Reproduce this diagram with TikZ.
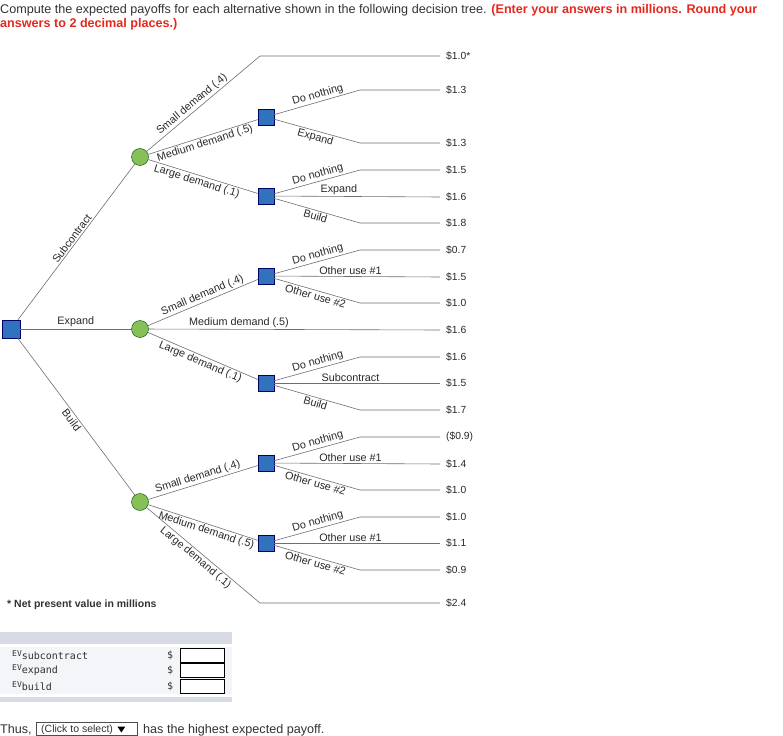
\documentclass[tikz,border=0pt]{standalone}
\usepackage{fontspec}
\setmainfont{Liberation Sans}
\newfontfamily\monof{DejaVu Sans Mono}
\definecolor{blueN}{RGB}{47,115,190}
\definecolor{greenN}{RGB}{134,193,87}
\definecolor{lineC}{RGB}{110,110,110}
\definecolor{txtC}{RGB}{40,40,40}
\definecolor{redT}{RGB}{228,40,30}
\definecolor{bandC}{RGB}{214,219,230}
\definecolor{rowC}{RGB}{244,245,248}
\definecolor{headC}{RGB}{50,50,50}
\begin{document}
\begin{tikzpicture}[x=1pt,y=-1pt,
  dec/.style={draw=blue!40!black,fill=blueN,minimum size=16pt,inner sep=0pt},
  root/.style={dec,minimum size=18pt},
  chance/.style={circle,draw=green!30!black,fill=greenN,minimum size=17pt,inner sep=0pt},
  br/.style={draw=lineC,line width=0.6pt},
  lab/.style={font=\fontsize{10.8}{12}\selectfont,text=txtC,inner sep=1.5pt},
  pay/.style={font=\fontsize{10.3}{12}\selectfont,anchor=west,inner sep=0pt,text=txtC},
  body/.style={font=\fontsize{12.6}{14}\selectfont,text=headC,inner sep=0pt,anchor=base west},
  redt/.style={text=redT,font=\fontsize{12.6}{14}\selectfont\bfseries}
]
\useasboundingbox (0,0) rectangle (783,735);
% title
\node[body] (t1) at (0,14) {Compute the expected payoffs for each alternative shown in the following decision tree. \textcolor{redT}{\bfseries(Enter your answers in millions. Round your}};
\node[anchor=base west,inner sep=0pt,redt] (t2) at (0,28) {answers to 2 decimal places.)};

% nodes
\node[root] (R) at (11,329) {};
\node[chance] (C1) at (140,157) {};
\node[chance] (C2) at (140,329) {};
\node[chance] (C3) at (140,502) {};
\node[dec] (D1) at (266,117) {};
\node[dec] (D2) at (266,196) {};
\node[dec] (D3) at (266,276) {};
\node[dec] (D4) at (266,383) {};
\node[dec] (D5) at (266,463) {};
\node[dec] (D6) at (266,543) {};

% payoffs
\foreach \n/\y/\v in {p1/56/{\$1.0*},p2/90/\$1.3,p3/143/\$1.3,p4/170/\$1.5,p5/197/\$1.6,p6/223/\$1.8,p7/250/\$0.7,p8/277/\$1.5,p9/303/\$1.0,p10/330/\$1.6,p11/357/\$1.6,p12/383/\$1.5,p13/410/\$1.7,p14/437/(\$0.9),p15/464/\$1.4,p16/490/\$1.0,p17/517/\$1.0,p18/543/\$1.1,p19/570/\$0.9,p20/603/\$2.4}{
  \coordinate (\n) at (440,\y);
  \node[pay] (l\n) at (446,\y) {\v};
}

% root branches
\draw[br] (R) -- (C1) node[lab,midway,sloped,above] {Subcontract};
\draw[br] (R) -- (C2) node[lab,midway,above] {Expand};
\draw[br] (R) -- (C3) node[lab,midway,sloped,below] {Build};

% C1
\coordinate (k1) at (260,56);
\draw[br] (C1) -- (k1) node[lab,pos=0.44,sloped,above] {Small demand (.4)} -- (p1);
\draw[br] (C1) -- (D1) node[lab,pos=0.5,sloped,below] {Medium demand (.5)};
\draw[br] (C1) -- (D2) node[lab,pos=0.46,sloped,below] {Large demand (.1)};
% D1
\coordinate (a2) at (360,90); \coordinate (a3) at (360,143);
\draw[br] (D1) -- (a2) node[lab,pos=0.53,sloped,above] {Do nothing} -- (p2);
\draw[br] (D1) -- (a3) node[lab,pos=0.5,sloped,below] {Expand} -- (p3);
% D2
\coordinate (a4) at (360,170); \coordinate (a6) at (360,223);
\draw[br] (D2) -- (a4) node[lab,pos=0.53,sloped,above] {Do nothing} -- (p4);
\draw[br] (D2) -- (p5) node[lab,pos=0.39,above] {Expand};
\draw[br] (D2) -- (a6) node[lab,pos=0.5,sloped,below] {Build} -- (p6);

% C2
\draw[br] (C2) -- (D3) node[lab,pos=0.52,sloped,above] {Small demand (.4)};
\draw[br] (C2) -- (p10) node[lab,pos=0.31,above] {Medium demand (.5)};
\draw[br] (C2) -- (D4) node[lab,pos=0.5,sloped,below] {Large demand (.1)};
% D3
\coordinate (a7) at (360,250); \coordinate (a9) at (360,303);
\draw[br] (D3) -- (a7) node[lab,pos=0.53,sloped,above] {Do nothing} -- (p7);
\draw[br] (D3) -- (p8) node[lab,pos=0.46,above] {Other use \#1};
\draw[br] (D3) -- (a9) node[lab,pos=0.5,sloped,below] {Other use \#2} -- (p9);
% D4
\coordinate (a11) at (360,357); \coordinate (a13) at (360,410);
\draw[br] (D4) -- (a11) node[lab,pos=0.53,sloped,above] {Do nothing} -- (p11);
\draw[br] (D4) -- (p12) node[lab,pos=0.46,above] {Subcontract};
\draw[br] (D4) -- (a13) node[lab,pos=0.5,sloped,below] {Build} -- (p13);

% C3
\coordinate (k20) at (260,603);
\draw[br] (C3) -- (D5) node[lab,pos=0.47,sloped,above] {Small demand (.4)};
\draw[br] (C3) -- (D6) node[lab,pos=0.55,sloped,below] {Medium demand (.5)};
\draw[br] (C3) -- (k20) node[lab,pos=0.47,sloped,below] {Large demand (.1)} -- (p20);
% D5
\coordinate (a14) at (360,437); \coordinate (a16) at (360,490);
\draw[br] (D5) -- (a14) node[lab,pos=0.53,sloped,above] {Do nothing} -- (p14);
\draw[br] (D5) -- (p15) node[lab,pos=0.46,above] {Other use \#1};
\draw[br] (D5) -- (a16) node[lab,pos=0.5,sloped,below] {Other use \#2} -- (p16);
% D6
\coordinate (a17) at (360,517); \coordinate (a19) at (360,570);
\draw[br] (D6) -- (a17) node[lab,pos=0.53,sloped,above] {Do nothing} -- (p17);
\draw[br] (D6) -- (p18) node[lab,pos=0.46,above] {Other use \#1};
\draw[br] (D6) -- (a19) node[lab,pos=0.5,sloped,below] {Other use \#2} -- (p19);

\node[anchor=west,inner sep=0pt,font=\fontsize{10.5}{12}\selectfont\bfseries,text=headC] (npv) at (7,605) {* Net present value in millions};

% table
\fill[bandC] (0,632) rectangle (232,644);
\fill[bandC] (0,697) rectangle (232,702);
\fill[rowC] (0,647) rectangle (232,694);
\foreach \n/\y/\s in {e1/655/subcontract,e2/670/expand,e3/686/build}{
  \node[anchor=west,inner sep=0pt,font=\monof\fontsize{10}{11}\selectfont,text=headC] (\n) at (12,\y) {\raisebox{3pt}{\fontsize{8}{9}\selectfont EV}\s};
  \node[anchor=west,inner sep=0pt,font=\monof\fontsize{10}{11}\selectfont,text=headC] (d\n) at (167,\y) {\$};
  \node[draw=black,line width=0.8pt,fill=white,minimum width=44pt,minimum height=14pt,inner sep=0pt] (b\n) at (202.5,\y) {};
}

% bottom line
\node[body] (th) at (0,733) {Thus,};
\node[draw=black!70,anchor=west,minimum width=101pt,minimum height=13pt,inner sep=0pt] (sel) at (36,729) {};
\node[anchor=west,inner sep=0pt,font=\fontsize{10.5}{12}\selectfont,text=headC] (selt) at (41,729.5) {(Click to select)};
\fill[black] ([xshift=-20pt,yshift=2.5pt]sel.east) -- ([xshift=-12pt,yshift=2.5pt]sel.east) -- ([xshift=-16pt,yshift=-3.5pt]sel.east) -- cycle;
\node[body] (hh) at (143,733) {has the highest expected payoff.};
\end{tikzpicture}
\end{document}
